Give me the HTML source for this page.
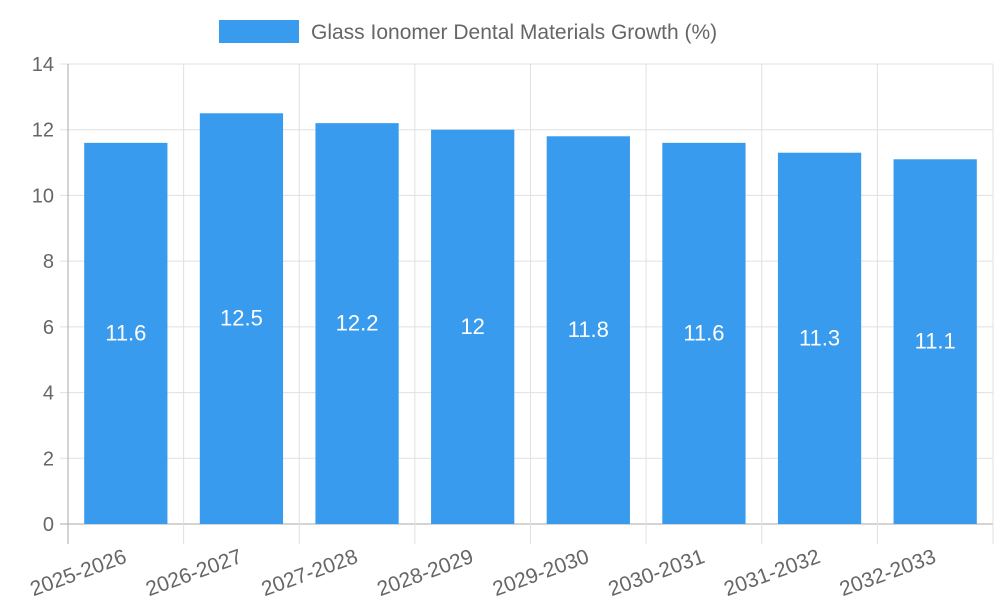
<!DOCTYPE html>
<html><head><meta charset="utf-8"><style>
body{margin:0;background:#fff;}
svg{display:block;font-family:"Liberation Sans",sans-serif;}
</style></head><body>
<svg id="c" width="1000" height="600"></svg>
<script>
const categories=["2025-2026","2026-2027","2027-2028","2028-2029","2029-2030","2030-2031","2031-2032","2032-2033"];
const values=[11.6,12.5,12.2,12,11.8,11.6,11.3,11.1];
const yTicks=[0,2,4,6,8,10,12,14];
const seriesName="Glass Ionomer Dental Materials Growth (%)";
const NS="http://www.w3.org/2000/svg";
const svg=document.getElementById('c');
const L=68,R=993,T=64,B=524,yMax=14;
const bw=(R-L)/categories.length;
const y=v=>B-(B-T)*v/yMax;
const x=i=>L+bw*i;
function mk(t,a,p){const e=document.createElementNS(NS,t);for(const k in a)e.setAttribute(k,a[k]);(p||svg).appendChild(e);return e;}
// grid
yTicks.forEach(v=>{
 const g=mk('line',{x1:L-8,x2:R,y1:y(v),y2:y(v),stroke:v===0?'#aaa':'#e0e0e0','stroke-width':1});
 
 
 const t=mk('text',{x:L-14,y:y(v)+7,'text-anchor':'end','font-size':20,fill:'#666'});
 t.textContent=v;
 
 
});
for(let i=0;i<=categories.length;i++){
 const g=mk('line',{x1:x(i),x2:x(i),y1:T,y2:B+20,stroke:i===0?'#aaa':'#e0e0e0','stroke-width':1});
 
 
}
categories.forEach((c,i)=>{
 const cx=x(i)+bw/2, w=bw*0.72;
 const r=mk('rect',{x:cx-w/2,y:y(values[i]),width:w,height:B-y(values[i]),fill:'#389bee'});
 
 
 const t=mk('text',{x:cx,y:(y(values[i])+B)/2+7,'text-anchor':'middle','font-size':22,fill:'#fff'});
 t.textContent=values[i];
 
 
 const l=mk('text',{x:0,y:0,'text-anchor':'end','font-size':21,fill:'#666',transform:`translate(${cx+2},${B+38}) rotate(-20)`});
 l.textContent=c;
 
 
});
const lg=mk('rect',{x:219,y:20,width:80,height:23,fill:'#389bee'});


const lt=mk('text',{x:311,y:39,'font-size':21,fill:'#666'});
lt.textContent=seriesName;


</script>
</body></html>
